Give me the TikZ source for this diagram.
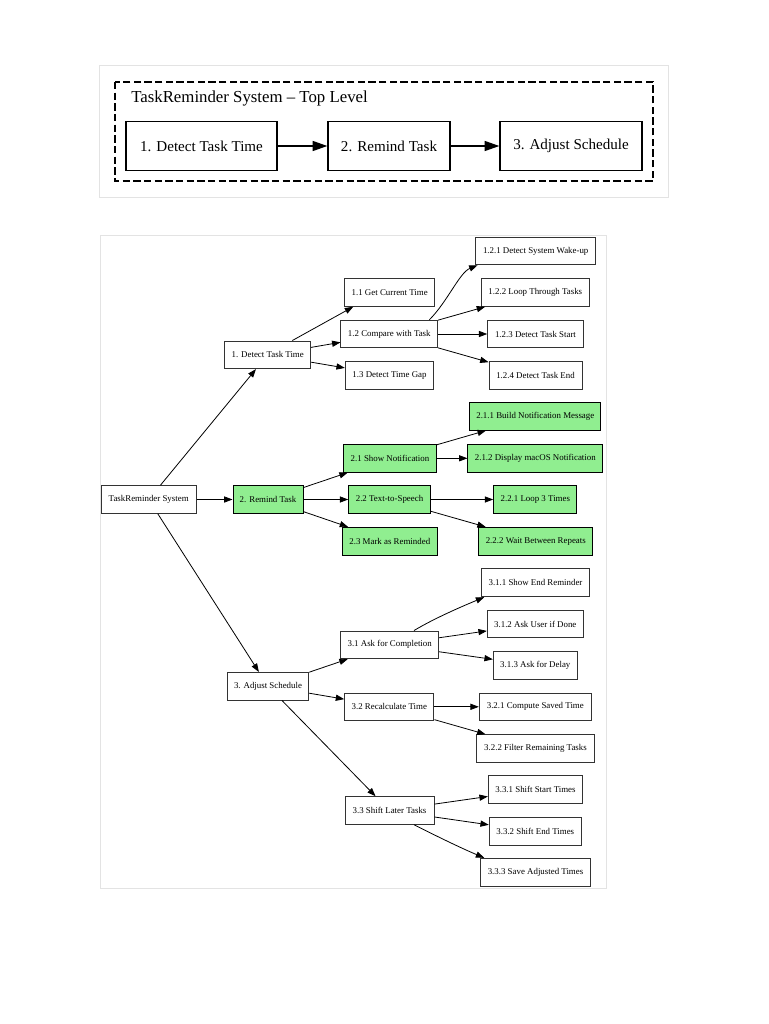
\documentclass[tikz,border=0pt]{standalone}
\usepackage{fontspec}
\setmainfont{Liberation Serif}
\usetikzlibrary{arrows.meta,calc}
\definecolor{nodegreen}{HTML}{90EE90}
\definecolor{panelgray}{HTML}{E3E3E3}
\tikzset{
  panel/.style={draw=panelgray, line width=0.75pt},
  nd/.style={draw=black!80, line width=0.7pt, rectangle, inner sep=0pt,
    minimum height=27.6*0.75pt, fill=white, font=\fontsize{6.65pt}{8pt}\selectfont},
  gn/.style={nd, fill=nodegreen, draw=black},
  wd/.style={minimum width=#1*0.75pt},
  edge/.style={line width=0.6pt, -{Triangle[length=6.3pt,width=4.6pt]}},
  topbox/.style={draw, line width=1pt, rectangle, inner sep=0pt,
    minimum height=48.5*0.75pt, font=\fontsize{11.3pt}{13pt}\selectfont},
  topedge/.style={line width=1pt, -{Triangle[length=11pt,width=7.5pt]}},
}
\begin{document}
\begin{tikzpicture}[x=0.75pt,y=-0.75pt]
\useasboundingbox (0,0) rectangle (768,1024);
\fill[white] (0,0) rectangle (768,1024);

% ---------- top panel ----------
\draw[panel] (99,66) rectangle (668,197);
\draw[line width=0.9pt, dash pattern=on 5.5pt off 2.5pt] (115,82) rectangle (653,181);
\node[anchor=base west, inner sep=0pt, font=\fontsize{12.6pt}{15pt}\selectfont] (title) at (131,102.7) {TaskReminder System – Top Level};
\node[topbox, wd=151] (t1) at (201.5,146) {1. Detect Task Time};
\node[topbox, wd=122] (t2) at (389,146) {2. Remind Task};
\node[topbox, wd=142] (t3) at (571,146) {3. Adjust Schedule};
\draw[topedge] (t1) -- (t2);
\draw[topedge] (t2) -- (t3);

% ---------- main panel ----------
\draw[panel] (100,235) rectangle (606,888);

\node[nd, wd=94.7] (root) at (148.7,499.5) {TaskReminder System};

\node[nd, wd=86]   (n1) at (267.7,354.8) {1. Detect Task Time};
\node[gn, wd=70]   (n2) at (268,499.5) {2. Remind Task};
\node[nd, wd=81.4] (n3) at (268,686.2) {3. Adjust Schedule};

\node[nd, wd=90]   (n11) at (389.7,292.5) {1.1 Get Current Time};
\node[nd, wd=96.7] (n12) at (389.3,334) {1.2 Compare with Task};
\node[nd, wd=88.4] (n13) at (389.5,375.5) {1.3 Detect Time Gap};

\node[nd, wd=120]  (n121) at (535.7,251) {1.2.1 Detect System Wake-up};
\node[nd, wd=108]  (n122) at (535.3,292.5) {1.2.2 Loop Through Tasks};
\node[nd, wd=95.6] (n123) at (535.5,334) {1.2.3 Detect Task Start};
\node[nd, wd=93]   (n124) at (535.5,375.5) {1.2.4 Detect Task End};

\node[gn, wd=92.6] (n21) at (390,458.3) {2.1 Show Notification};
\node[gn, wd=81.6] (n22) at (389.5,499.5) {2.2 Text-to-Speech};
\node[gn, wd=95]   (n23) at (389.8,541.2) {2.3 Mark as Reminded};

\node[gn, wd=131.3] (n211) at (535.3,416.3) {2.1.1 Build Notification Message};
\node[gn, wd=134.7] (n212) at (535.3,458.3) {2.1.2 Display macOS Notification};
\node[gn, wd=83.3]  (n221) at (535.3,499.5) {2.2.1 Loop 3 Times};
\node[gn, wd=114.3] (n222) at (535.8,541.2) {2.2.2 Wait Between Repeats};

\node[nd, wd=98]   (n31) at (389.7,644.8) {3.1 Ask for Completion};
\node[nd, wd=89.3] (n32) at (389.3,706.8) {3.2 Recalculate Time};
\node[nd, wd=89]   (n33) at (389.5,810.5) {3.3 Shift Later Tasks};

\node[nd, wd=108.4] (n311) at (535.5,582.5) {3.1.1 Show End Reminder};
\node[nd, wd=96]    (n312) at (535.3,624) {3.1.2 Ask User if Done};
\node[nd, wd=84]    (n313) at (535.3,665.3) {3.1.3 Ask for Delay};
\node[nd, wd=112]   (n321) at (535.3,706.8) {3.2.1 Compute Saved Time};
\node[nd, wd=117.6] (n322) at (535.5,748.5) {3.2.2 Filter Remaining Tasks};
\node[nd, wd=94.4]  (n331) at (535.5,789.7) {3.3.1 Shift Start Times};
\node[nd, wd=92]    (n332) at (535.3,831.5) {3.3.2 Shift End Times};
\node[nd, wd=110.4] (n333) at (535.5,872.5) {3.3.3 Save Adjusted Times};

% edges
\draw[edge] (root) -- (n1);
\draw[edge] (root) -- (n2);
\draw[edge] (root) -- (n3);

\draw[edge] ($(n1.north)+(24.6,0)$) -- ($(n11.south west)+(9,0)$);
\draw[edge] (n1) -- (n12);
\draw[edge] (n1) -- (n13);
\draw[edge] ($(n12.north east)+(-8.7,0)$) .. controls ($(n12.north east)+(9.3,-18)$) and ($(n121.south west)+(-15.7,7.3)$) .. ($(n121.south west)+(2.3,0)$);
\draw[edge] (n12) -- (n122);
\draw[edge] (n12) -- (n123);
\draw[edge] (n12) -- (n124);

\draw[edge] (n2) -- (n21);
\draw[edge] (n2) -- (n22);
\draw[edge] (n2) -- (n23);
\draw[edge] (n21) -- (n211);
\draw[edge] (n21) -- (n212);
\draw[edge] (n22) -- (n221);
\draw[edge] (n22) -- (n222);

\draw[edge] (n3) -- (n31);
\draw[edge] (n3) -- (n32);
\draw[edge] (n3) -- (n33);
\draw[edge] ($(n31.north)+(24.3,0)$) .. controls ($(n31.north)+(44.3,-12)$) and ($(n311.south west)+(-20.6,10.4)$) .. ($(n311.south west)+(3.4,0.4)$);
\draw[edge] (n31) -- (n312);
\draw[edge] (n31) -- (n313);
\draw[edge] (n32) -- (n321);
\draw[edge] (n32) -- (n322);
\draw[edge] (n33) -- (n331);
\draw[edge] (n33) -- (n332);
\draw[edge] ($(n33.south)+(24.5,0)$) .. controls ($(n33.south)+(44.5,10)$) and ($(n333.north west)+(-21.6,-11.4)$) .. ($(n333.north west)+(4.4,-0.4)$);
\end{tikzpicture}
\end{document}
